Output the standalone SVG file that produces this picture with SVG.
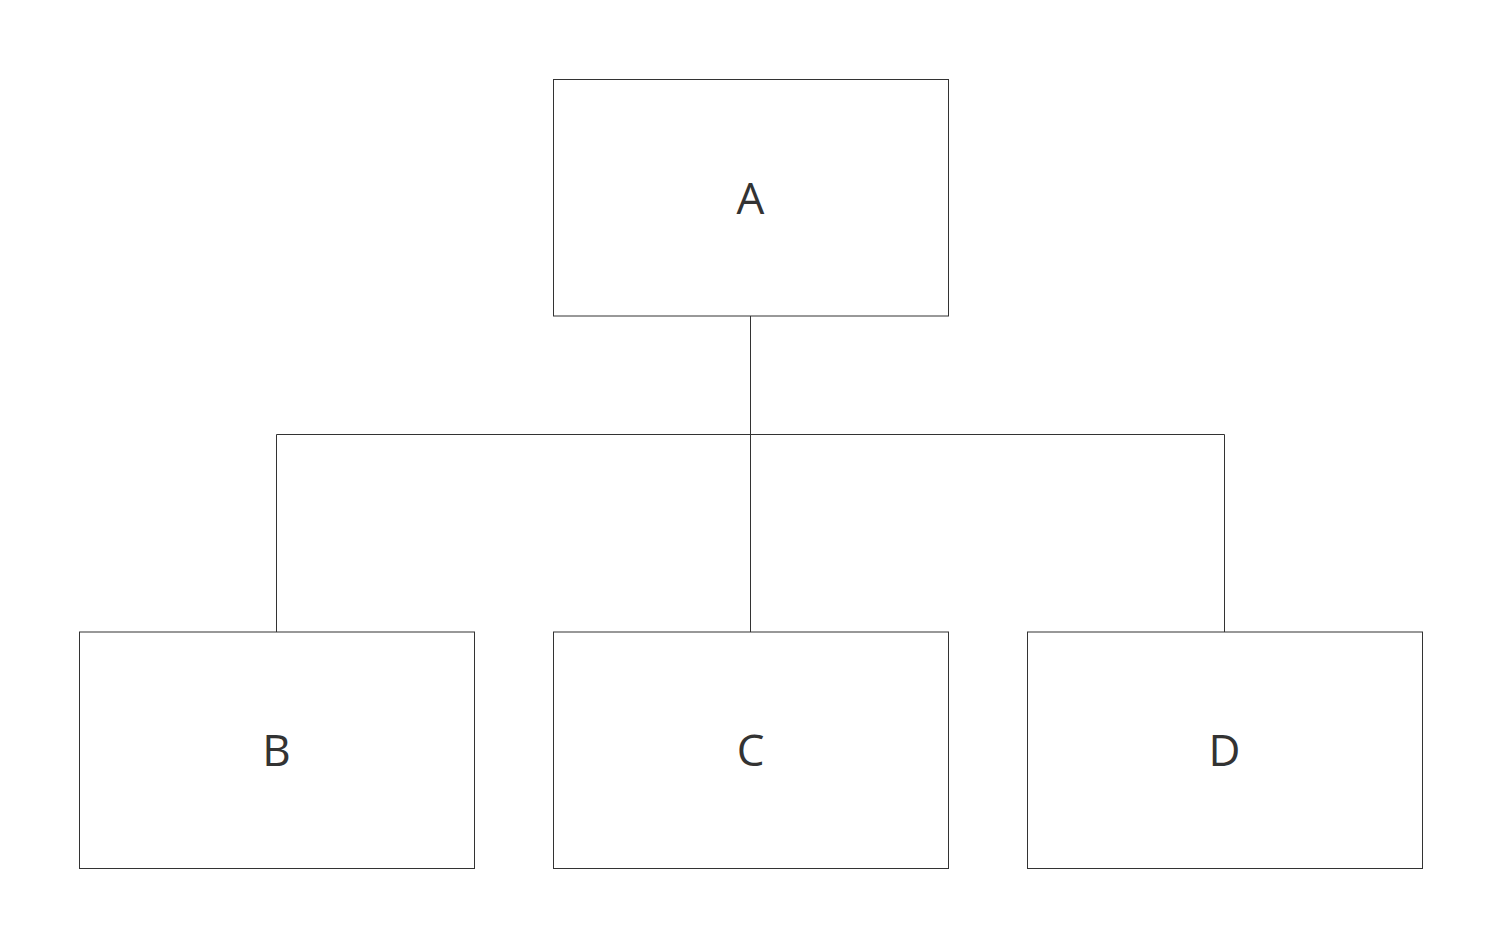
<svg xmlns="http://www.w3.org/2000/svg" width="1500" height="947" viewBox="0 0 1500 947">
<style>
.box{fill:#fff;stroke:#333;stroke-width:1}
.lbl{font-family:"Open Sans","DejaVu Sans",sans-serif;font-size:44px;fill:#333;text-anchor:middle}
.conn{fill:none;stroke:#333;stroke-width:1}
</style>
<rect width="1500" height="947" fill="#fff"/>
<g id="connectors">
<path class="conn" d="M750.5 316V434.5M276.5 632V434.5H1224.5V632M750.5 434.5V632"/>
</g>
<g id="A"><rect class="box" x="553.5" y="79.5" width="395" height="236.5"/><text class="lbl" x="750.5" y="214">A</text></g>
<g id="B"><rect class="box" x="79.5" y="632" width="395" height="236.5"/><text class="lbl" x="276.5" y="766">B</text></g>
<g id="C"><rect class="box" x="553.5" y="632" width="395" height="236.5"/><text class="lbl" x="750.5" y="766">C</text></g>
<g id="D"><rect class="box" x="1027.5" y="632" width="395" height="236.5"/><text class="lbl" x="1224.5" y="766">D</text></g>
</svg>
